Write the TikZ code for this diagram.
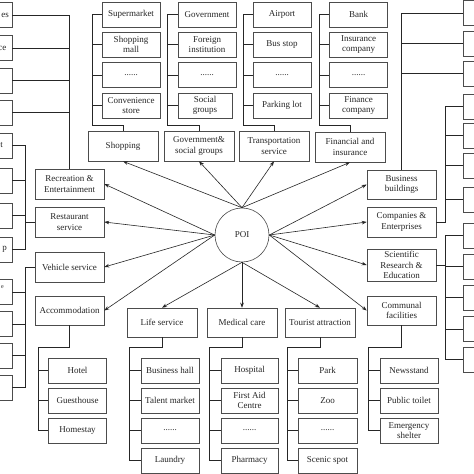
\documentclass[tikz,border=0pt]{standalone}
\usepackage{fontspec}
\setmainfont{Liberation Serif}
\usetikzlibrary{arrows.meta,calc}
\begin{document}
\begin{tikzpicture}[x=1pt,y=-1pt,
  bx/.style={draw=black!70, line width=0.6pt, inner sep=0pt, align=center,
    font=\fontsize{9}{10.5}\selectfont, text=black!85},
  sb/.style={bx, minimum width=58pt, minimum height=25pt},
  mb/.style={bx, minimum width=70pt, minimum height=30pt},
  eb/.style={bx, minimum width=26pt, minimum height=25pt},
  frag/.style={inner sep=0pt, font=\fontsize{9}{10.5}\selectfont, text=black!85},
  ln/.style={draw=black!85, line width=0.6pt},
  arr/.style={ln, -{Stealth[length=5pt,width=3.6pt]}}]
\useasboundingbox (0,0) rectangle (474,474);
\clip (0,0) rectangle (474,474);
\fill[white] (0,0) rectangle (474,474);

% ---- left edge column
\foreach \n/\y in {L1/15,L2/48,L3/80.5,L4/112.5,L5/145.5,L6/180.5,L7/215.5,L8/249.5,L9/292,L10/324,L11/355.5,L12/387.5}
  \node[eb] (\n) at (-1,\y) {};
\node[frag, anchor=east] (f1) at (9,15) {es};
\node[frag, anchor=east] (f2) at (6.5,48) {ce};
\node[frag, anchor=east] (f5) at (3,145.5) {t};
\node[frag, anchor=east] (f8) at (7,249.5) {p};
\node[frag, anchor=east, font=\fontsize{6}{7}\selectfont] (f9) at (4,287) {e};

% ---- right edge column
\foreach \n/\y in {R1/13,R2/43.5,R3/73.5,R4/106.5,R5/135.5,R6/165.5,R7/199.5,R8/235.5,R9/266.5,R10/297.5,R11/329,R12/359.5}
  \node[eb] (\n) at (476,\y) {};

% ---- main left boxes
\node[mb, minimum width=69pt] (rec) at (69.5,184) {Recreation \&\\Entertainment};
\node[mb, minimum width=69pt] (rest) at (69.5,222) {Restaurant\\service};
\node[mb, minimum width=69pt] (veh) at (69.5,267) {Vehicle service};
\node[mb, minimum width=69pt, minimum height=29pt] (acc) at (69.5,310.5) {Accommodation};

% ---- main right boxes
\node[mb, minimum width=69pt, minimum height=29pt] (bus) at (401.5,184.5) {Business\\buildings};
\node[mb, minimum width=69pt] (comp) at (401.5,222) {Companies \&\\Enterprises};
\node[mb, minimum width=69pt, minimum height=32pt] (sci) at (401.5,265) {Scientific\\Research \&\\Education};
\node[mb, minimum width=69pt, minimum height=29pt] (com) at (401.5,310.5) {Communal\\facilities};

% ---- main top boxes
\node[mb] (shop) at (123,146) {Shopping};
\node[mb] (gov) at (199,146) {Government\&\\social groups};
\node[mb] (trans) at (274,146) {Transportation\\service};
\node[mb] (fin) at (350,147) {Financial and\\insurance};

% ---- main bottom boxes
\node[mb, minimum height=29pt] (life) at (162,322.5) {Life service};
\node[mb, minimum height=29pt] (med) at (242,322.5) {Medical care};
\node[mb, minimum height=29pt] (tour) at (320,322.5) {Tourist attraction};

% ---- POI
\node[draw=black!70, line width=0.6pt, circle, minimum size=54pt, inner sep=0pt,
  font=\fontsize{9}{10.5}\selectfont, text=black!85] (poi) at (242,235) {POI};

% ---- top sub boxes
\node[sb] (S1) at (131,14.5) {Supermarket};
\node[sb] (S2) at (131,44.5) {Shopping\\mall};
\node[sb] (S3) at (131,75) {......};
\node[sb] (S4) at (131,105.5) {Convenience\\store};
\node[sb] (G1) at (207,14.5) {Government};
\node[sb] (G2) at (207,44.5) {Foreign\\institution};
\node[sb] (G3) at (207,75) {......};
\node[sb, minimum width=54pt] (G4) at (205,105.5) {Social\\groups};
\node[sb] (T1) at (282,14.5) {Airport};
\node[sb] (T2) at (282,44.5) {Bus stop};
\node[sb] (T3) at (282,75) {......};
\node[sb] (T4) at (282,105.5) {Parking lot};
\node[sb] (F1) at (358.5,14.5) {Bank};
\node[sb] (F2) at (358.5,44.5) {Insurance\\company};
\node[sb] (F3) at (358.5,75) {......};
\node[sb] (F4) at (358.5,105.5) {Finance\\company};

% ---- bottom sub boxes
\node[sb] (A1) at (77.5,370.5) {Hotel};
\node[sb] (A2) at (77.5,400.5) {Guesthouse};
\node[sb] (A3) at (77.5,430.5) {Homestay};
\node[sb] (B1) at (170,370.5) {Business hall};
\node[sb] (B2) at (170,400.5) {Talent market};
\node[sb] (B3) at (170,430.5) {......};
\node[sb] (B4) at (170,460.5) {Laundry};
\node[sb, minimum width=57pt] (M1) at (249.5,370.5) {Hospital};
\node[sb, minimum width=57pt] (M2) at (249.5,400.5) {First Aid\\Centre};
\node[sb, minimum width=57pt] (M3) at (249.5,430.5) {......};
\node[sb, minimum width=57pt] (M4) at (249.5,460.5) {Pharmacy};
\node[sb, minimum width=59pt] (P1) at (327.5,370.5) {Park};
\node[sb, minimum width=59pt] (P2) at (327.5,400.5) {Zoo};
\node[sb, minimum width=59pt] (P3) at (327.5,430.5) {......};
\node[sb, minimum width=59pt] (P4) at (327.5,460.5) {Scenic spot};
\node[sb] (C1) at (409,370.5) {Newsstand};
\node[sb] (C2) at (409,400.5) {Public toilet};
\node[sb] (C3) at (409,430.5) {Emergency\\shelter};

% ---- left connectors
\draw[ln] (L1.east) -| (rec.north);
\foreach \n in {L2,L3,L4} \draw[ln] (\n.east) -- (\n.east -| rec.north);
\coordinate (j2) at (25,222);
\draw[ln] (L5.east) -| (j2) -- (rest.west);
\draw[ln] (L8.east) -| (j2);
\foreach \n in {L6,L7} \draw[ln] (\n.east) -- (\n.east -| j2);
\coordinate (j3) at (25,267);
\draw[ln] (veh.west) -- (j3) |- (L12.east);
\foreach \n in {L9,L10,L11} \draw[ln] (\n.east) -- (\n.east -| j3);

% ---- right connectors
\draw[ln] (R1.west) -| (bus.north);
\foreach \n in {R2,R3} \draw[ln] (\n.west) -- (\n.west -| bus.north);
\coordinate (c0) at (445,222);
\draw[ln] (comp.east) -- (c0) |- (R4.west);
\foreach \n in {R5,R6,R7} \draw[ln] (\n.west) -- (\n.west -| c0);
\coordinate (c1) at (445,265);
\draw[ln] (sci.east) -- (c1);
\draw[ln] (R8.west) -| (c1);
\draw[ln] (R12.west) -| (c1);
\foreach \n in {R9,R10,R11} \draw[ln] (\n.west) -- (\n.west -| c1);

% ---- top connectors
\coordinate (s0) at (92,125);
\draw[ln] (S1.west) -| (s0) -| (shop.north);
\foreach \n in {S2,S3,S4} \draw[ln] (\n.west) -- (\n.west -| s0);
\coordinate (g0) at (167,125);
\draw[ln] (G1.west) -| (g0) -| (gov.north);
\foreach \n in {G2,G3,G4} \draw[ln] (\n.west) -- (\n.west -| g0);
\coordinate (t0) at (243,125);
\draw[ln] (T1.west) -| (t0) -| (trans.north);
\foreach \n in {T2,T3,T4} \draw[ln] (\n.west) -- (\n.west -| t0);
\coordinate (q0) at (319,125);
\draw[ln] (F1.west) -| (q0) -| (fin.north);
\foreach \n in {F2,F3,F4} \draw[ln] (\n.west) -- (\n.west -| q0);

% ---- bottom connectors
\coordinate (a0) at (38,347);
\draw[ln] (acc.south) |- (a0) |- (A3.west);
\foreach \n in {A1,A2} \draw[ln] (\n.west) -- (\n.west -| a0);
\coordinate (b0) at (129,347);
\draw[ln] (life.south) |- (b0) |- (B4.west);
\foreach \n in {B1,B2,B3} \draw[ln] (\n.west) -- (\n.west -| b0);
\coordinate (m0) at (209,347);
\draw[ln] (med.south) |- (m0) |- (M4.west);
\foreach \n in {M1,M2,M3} \draw[ln] (\n.west) -- (\n.west -| m0);
\coordinate (p0) at (287,347);
\draw[ln] (tour.south) |- (p0) |- (P4.west);
\foreach \n in {P1,P2,P3} \draw[ln] (\n.west) -- (\n.west -| p0);
\coordinate (k0) at (368,347);
\draw[ln] (com.south) |- (k0) |- (C3.west);
\foreach \n in {C1,C2} \draw[ln] (\n.west) -- (\n.west -| k0);

% ---- arrows from POI
\foreach \t in {shop,gov,trans,fin} \draw[arr] (poi.north) -- (\t.south);
\foreach \t in {rec,rest,veh,acc} \draw[arr] (poi.west) -- (\t.east);
\foreach \t in {bus,comp,sci,com} \draw[arr] (poi.east) -- (\t.west);
\foreach \t in {life,med,tour} \draw[arr] (poi.south) -- (\t.north);
\end{tikzpicture}
\end{document}
